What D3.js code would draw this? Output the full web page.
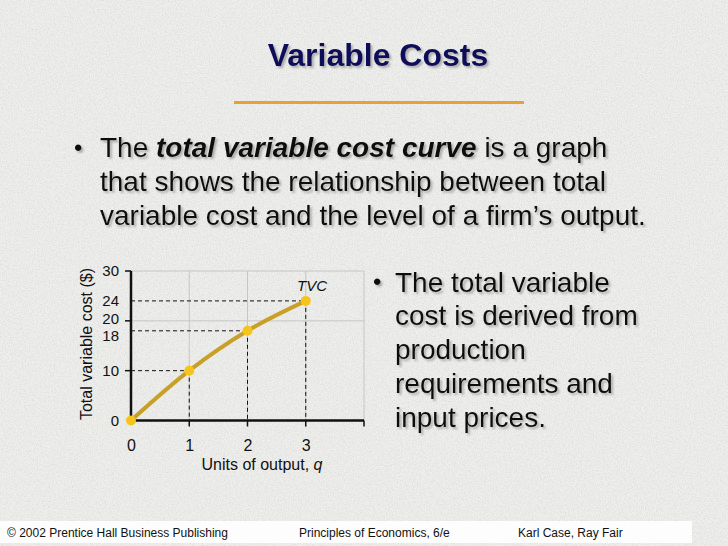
<!DOCTYPE html>
<html><head><meta charset="utf-8">
<script src="https://cdn.jsdelivr.net/npm/d3@7"></script>
<style>
body{margin:0;background:#eeeeec;}
svg{display:block;font-family:"Liberation Sans",Arial,sans-serif;}
</style>
</head><body>
<svg id="c" width="728" height="546"></svg>
<script>
// ---- data ----
const quantities = [0, 1, 2, 3];
const tvcValues = [0, 10, 18, 24];
const yTickValues = [0, 10, 18, 20, 24, 30];
const xTickValues = [0, 1, 2, 3];
const xTickMarks = [1, 2, 3, 4];
const yTickMarks = [10, 20, 30];
const gridX = [1, 2, 3, 4];
const gridY = [20, 30];
const titleText = "Variable Costs";
const bullet1 = [
  [{t: "The "}, {t: "total variable cost curve", b: true}, {t: " is a graph"}],
  [{t: "that shows the relationship between total"}],
  [{t: "variable cost and the level of a firm\u2019s output."}]
];
const bullet2 = ["The total variable", "cost is derived from", "production", "requirements and", "input prices."];
const footer = ["\u00a9 2002 Prentice Hall Business Publishing", "Principles of Economics, 6/e", "Karl Case, Ray Fair"];
const seriesLabel = "TVC";
const yTitle = "Total variable cost ($)";
const xTitle = "Units of output, ";
const xTitleVar = "q";

const svg = d3.select("#c");
const defs = svg.append("defs");
const tex = defs.append("filter").attr("id", "tex").attr("x", 0).attr("y", 0).attr("width", 1).attr("height", 1);
tex.append("feTurbulence").attr("type", "fractalNoise").attr("baseFrequency", 0.75).attr("numOctaves", 3).attr("seed", 4);
tex.append("feColorMatrix").attr("type", "matrix")
  .attr("values", "0 0 0 0 0.45  0 0 0 0 0.45  0 0 0 0 0.43  0.6 0 0 0 -0.22");
const sh = defs.append("filter").attr("id", "sh").attr("x", "-5%").attr("y", "-20%").attr("width", "110%").attr("height", "140%");
sh.append("feDropShadow").attr("dx", 2).attr("dy", 2).attr("stdDeviation", 0.9)
  .attr("flood-color", "#777").attr("flood-opacity", 0.55);

// background
svg.append("rect").attr("width", 728).attr("height", 546).attr("fill", "#efefed");
svg.append("rect").attr("width", 728).attr("height", 546).attr("filter", "url(#tex)");

// title
svg.append("text").attr("x", 378).attr("y", 66).attr("text-anchor", "middle")
  .attr("font-size", 32).attr("font-weight", "bold").attr("fill", "#0c0c5c")
  .attr("filter", "url(#sh)").text(titleText);
svg.append("line").attr("x1", 234).attr("x2", 524).attr("y1", 102.5).attr("y2", 102.5)
  .attr("stroke", "#e8a136").attr("stroke-width", 3);

// bullet 1
const b1 = svg.append("g").attr("filter", "url(#sh)").attr("font-size", 28).attr("fill", "#111");
b1.append("text").attr("x", 74).attr("y", 156).attr("font-size", 24).text("\u2022");
bullet1.forEach((parts, i) => {
  const t = b1.append("text").attr("x", 100).attr("y", 157 + i * 34);
  parts.forEach(p => {
    const s = t.append("tspan").text(p.t);
    if (p.b) s.attr("font-weight", "bold").attr("font-style", "italic");
  });
});

// bullet 2
const b2 = svg.append("g").attr("filter", "url(#sh)").attr("font-size", 28).attr("fill", "#111");
b2.append("text").attr("x", 373).attr("y", 290).attr("font-size", 24).text("\u2022");
bullet2.forEach((l, i) => {
  b2.append("text").attr("x", 395).attr("y", 291.5 + i * 33.8).text(l);
});

// chart
const x = d3.scaleLinear().domain([0, 4]).range([131, 364]);
const y = d3.scaleLinear().domain([0, 30]).range([420.5, 271]);
const ch = svg.append("g");

ch.selectAll(".gx").data(gridX).join("line")
  .attr("x1", d => x(d)).attr("x2", d => x(d)).attr("y1", y(30)).attr("y2", y(0))
  .attr("stroke", "#c6c6c6").attr("stroke-width", 1);
ch.selectAll(".gy").data(gridY).join("line")
  .attr("x1", x(0)).attr("x2", x(4)).attr("y1", d => y(d)).attr("y2", d => y(d))
  .attr("stroke", "#c6c6c6").attr("stroke-width", 1);

// dashed guides
const pts = quantities.map((q, i) => ({q, v: tvcValues[i]})).filter(d => d.q > 0);
ch.selectAll(".dh").data(pts).join("line")
  .attr("x1", x(0)).attr("x2", d => x(d.q)).attr("y1", d => y(d.v)).attr("y2", d => y(d.v))
  .attr("stroke", "#111").attr("stroke-width", 1).attr("stroke-dasharray", "4,3");
ch.selectAll(".dv").data(pts).join("line")
  .attr("x1", d => x(d.q)).attr("x2", d => x(d.q)).attr("y1", d => y(d.v)).attr("y2", y(0))
  .attr("stroke", "#111").attr("stroke-width", 1).attr("stroke-dasharray", "4,3");

// axes
const yAxis = d3.axisLeft(y).tickValues(yTickValues).tickSize(0).tickPadding(12).tickFormat(d3.format("d"));
const yg = ch.append("g").attr("transform", `translate(${x(0)},0)`).call(yAxis);
yg.select(".domain").remove();
yg.selectAll("text").attr("font-size", 15).attr("font-family", "Liberation Sans, Arial, sans-serif").attr("fill", "#111")
  .attr("dy", d => d === 18 ? "0.62em" : d === 20 ? "0.2em" : "0.32em");
const xAxis = d3.axisBottom(x).tickValues(xTickValues).tickSize(0).tickPadding(19).tickFormat(d3.format("d"));
const xg = ch.append("g").attr("transform", `translate(0,${y(0)})`).call(xAxis);
xg.select(".domain").remove();
xg.selectAll("text").attr("font-size", 16).attr("font-family", "Liberation Sans, Arial, sans-serif").attr("fill", "#111");

ch.selectAll(".ty").data(yTickMarks).join("line")
  .attr("x1", x(0) - 6).attr("x2", x(0)).attr("y1", d => y(d)).attr("y2", d => y(d))
  .attr("stroke", "#111").attr("stroke-width", 1.5);
ch.selectAll(".tx").data(xTickMarks).join("line")
  .attr("x1", d => x(d)).attr("x2", d => x(d)).attr("y1", y(0)).attr("y2", y(0) + 6)
  .attr("stroke", "#111").attr("stroke-width", 1.5);

ch.append("line").attr("x1", x(0)).attr("x2", x(0)).attr("y1", y(30)).attr("y2", y(0) + 1)
  .attr("stroke", "#111").attr("stroke-width", 2.5);
ch.append("line").attr("x1", x(0) - 1).attr("x2", x(4)).attr("y1", y(0)).attr("y2", y(0))
  .attr("stroke", "#111").attr("stroke-width", 2.5);

// curve
const line = d3.line().x(d => x(d.q)).y(d => y(d.v)).curve(d3.curveMonotoneX);
const all = quantities.map((q, i) => ({q, v: tvcValues[i]}));
ch.append("path").datum(all).attr("d", line).attr("fill", "none")
  .attr("stroke", "#c9a027").attr("stroke-width", 4).attr("stroke-linecap", "round");
ch.selectAll(".pt").data(all).join("circle")
  .attr("cx", d => x(d.q)).attr("cy", d => y(d.v)).attr("r", 5)
  .attr("fill", "#f6c51c");

ch.append("text").attr("x", 297).attr("y", 291).attr("font-size", 15).attr("font-style", "italic")
  .attr("fill", "#111").text(seriesLabel);
ch.append("text").attr("transform", `translate(92,344) rotate(-90)`).attr("text-anchor", "middle")
  .attr("font-size", 16).attr("fill", "#111").text(yTitle);
const xt = ch.append("text").attr("x", 262).attr("y", 470).attr("text-anchor", "middle")
  .attr("font-size", 16).attr("fill", "#111");
xt.append("tspan").text(xTitle);
xt.append("tspan").attr("font-style", "italic").text(xTitleVar);

// footer
svg.append("rect").attr("x", 0).attr("y", 521).attr("width", 692).attr("height", 22).attr("fill", "#fdfdfd");
const fx = [7, 299, 518];
svg.selectAll(".ft").data(footer).join("text")
  .attr("x", (d, i) => fx[i]).attr("y", 537).attr("font-size", 12).attr("fill", "#111").text(d => d);
</script>
</body></html>
